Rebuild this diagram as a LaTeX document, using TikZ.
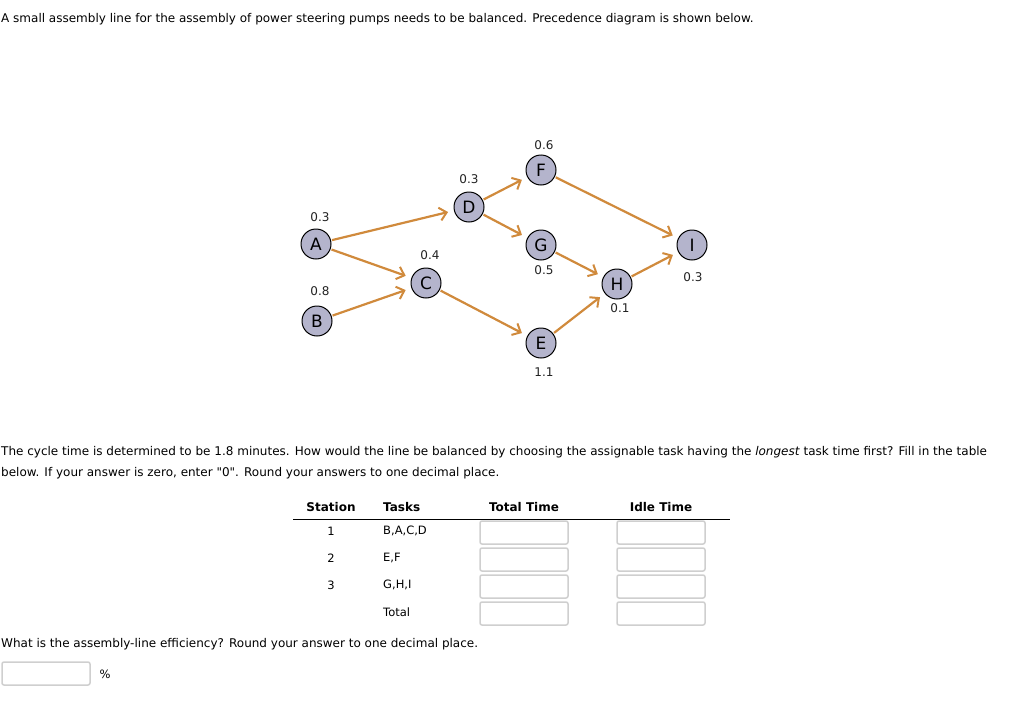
\documentclass[tikz,border=0pt]{standalone}
\usepackage{fontspec}
\setmainfont{DejaVu Sans}[Ligatures=TeXOff]
\usetikzlibrary{arrows.meta}
\definecolor{nodefill}{HTML}{B4B4CC}
\definecolor{arrowc}{HTML}{D08A3C}
\definecolor{boxc}{HTML}{CFCFCF}
\definecolor{txt}{HTML}{222222}
\tikzset{
  task/.style={circle, draw=black, line width=1pt, fill=nodefill, minimum size=30pt, inner sep=0pt, font=\fontsize{17}{17}\selectfont},
  tlabel/.style={font=\fontsize{12}{12}\selectfont, text=txt},
  flow/.style={draw=arrowc, line width=2.2pt, -{Straight Barb[length=7pt,width=13pt,line width=2pt]}, shorten >=6pt, shorten <=1pt},
  para/.style={anchor=west, font=\fontsize{12}{14}\selectfont, text=black, inner sep=0pt},
  hdr/.style={font=\fontsize{12}{14}\selectfont\bfseries, inner sep=0pt},
  cell/.style={font=\fontsize{11.5}{14}\selectfont, inner sep=0pt},
  inbox/.style={draw=boxc, line width=1.5pt, rounded corners=2pt, fill=white, minimum width=88pt, minimum height=23pt, inner sep=0pt}
}
\begin{document}
\begin{tikzpicture}[x=1pt,y=-1pt]
\useasboundingbox (0,0) rectangle (1009,704);
\node[para] (t1) at (1,19) {A small assembly line for the assembly of power steering pumps needs to be balanced. Precedence diagram is shown below.};

% tasks
\node[task] (A) at (316,244) {A};
\node[task] (B) at (317,321) {B};
\node[task] (C) at (426,283) {C};
\node[task] (D) at (469,207) {D};
\node[task] (E) at (541,343) {E};
\node[task] (F) at (541,170) {F};
\node[task] (G) at (541,245) {G};
\node[task] (H) at (617,284) {H};
\node[task] (I) at (692,245) {I};

\node[tlabel] (lA) at (320,217) {0.3};
\node[tlabel] (lB) at (320,291) {0.8};
\node[tlabel] (lC) at (430,255) {0.4};
\node[tlabel] (lD) at (469,179) {0.3};
\node[tlabel] (lF) at (544,145) {0.6};
\node[tlabel] (lG) at (544,270) {0.5};
\node[tlabel] (lE) at (544,372) {1.1};
\node[tlabel] (lH) at (620,308) {0.1};
\node[tlabel] (lI) at (693,277) {0.3};

\draw[flow] (A) -- (D);
\draw[flow] (A) -- (C);
\draw[flow] (B) -- (C);
\draw[flow] (D) -- (F);
\draw[flow] (D) -- (G);
\draw[flow] (C) -- (E);
\draw[flow] (F) -- (I);
\draw[flow] (G) -- (H);
\draw[flow] (E) -- (H);
\draw[flow] (H) -- (I);

\node[para] (t2) at (1,452) {The cycle time is determined to be 1.8 minutes. How would the line be balanced by choosing the assignable task having the \textit{longest} task time first? Fill in the table};
\node[para] (t3) at (1,473) {below. If your answer is zero, enter "0". Round your answers to one decimal place.};

% table
\node[hdr] (hS) at (331,507) {Station};
\node[hdr, anchor=west] (hT) at (383,507) {Tasks};
\node[hdr] (hTT) at (524,507) {Total Time};
\node[hdr] (hI) at (661,507) {Idle Time};
\draw[line width=1pt] (293,519) -- (730,519);

\node[cell] (s1) at (331,531) {1};
\node[cell] (s2) at (331,558) {2};
\node[cell] (s3) at (331,585) {3};
\node[cell, anchor=west] (k1) at (383,531) {B,A,C,D};
\node[cell, anchor=west] (k2) at (383,558) {E,F};
\node[cell, anchor=west] (k3) at (383,585) {G,H,I};
\node[cell, anchor=west] (k4) at (383,612) {Total};

\foreach \y [count=\i] in {532.5,559.5,586.5,613.5} {
  \node[inbox] (tt\i) at (524,\y) {};
  \node[inbox] (it\i) at (661,\y) {};
}

\node[para] (t4) at (1,644) {What is the assembly-line efficiency? Round your answer to one decimal place.};
\node[inbox] (eff) at (46,673.5) {};
\node[cell] (pct) at (105,674) {\%};
\end{tikzpicture}
\end{document}
